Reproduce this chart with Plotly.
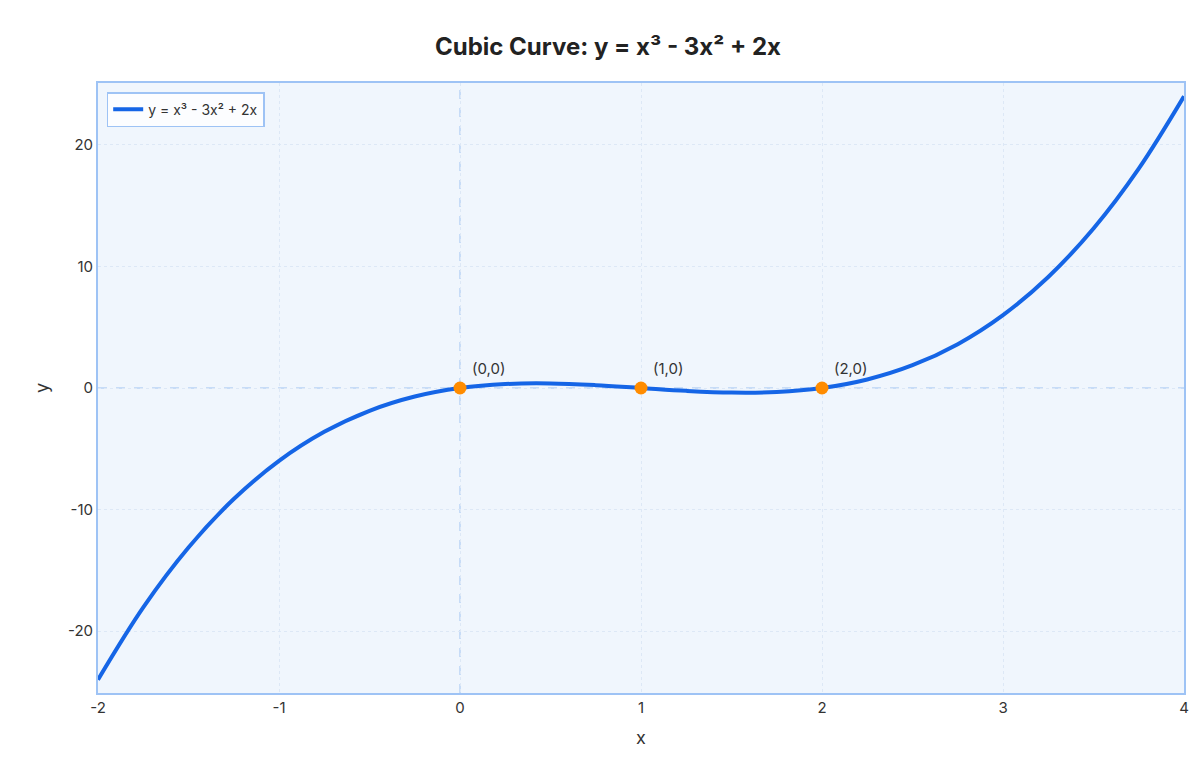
import plotly.graph_objects as go

x_vals = [-2, -1.75, -1.5, -1.25, -1, -0.75, -0.5, -0.25, 0, 0.25, 0.5, 0.75, 1, 1.25, 1.5, 1.75, 2, 2.25, 2.5, 2.75, 3, 3.25, 3.5, 3.75, 4]
y_vals = [-24, -18.05, -13.125, -9.14, -6, -3.61, -1.875, -0.70, 0, 0.328, 0.375, 0.234, 0, -0.234, -0.375, -0.328, 0, 0.703, 1.875, 3.61, 6, 9.14, 13.125, 18.05, 24]
root_x = [0, 1, 2]
root_y = [0, 0, 0]
root_labels = ["(0,0)", "(1,0)", "(2,0)"]
x_ticks = [-2, -1, 0, 1, 2, 3, 4]
x_ticktext = ["-2", "-1", "0", "1", "2", "3", "4"]
y_ticks = [-20, -10, 0, 10, 20]
y_ticktext = ["-20", "-10", "0", "10", "20"]

font = "Inter, Lato, sans-serif"
fig = go.Figure()
fig.add_trace(go.Scatter(x=x_vals, y=y_vals, mode="lines", line=dict(color="#1565E6", width=4, shape="spline"),
                         name="y = x³ - 3x² + 2x"))
fig.add_trace(go.Scatter(x=root_x, y=root_y, mode="markers", marker=dict(color="#FF8C00", size=13),
                         showlegend=False))
for xv, yv, t in zip(root_x, root_y, root_labels):
    fig.add_annotation(x=xv, y=yv, text=t, showarrow=False, xanchor="left", yanchor="bottom",
                       xshift=10, yshift=8, font=dict(size=15, color="#333333", family=font))
fig.add_shape(type="line", x0=0, x1=0, y0=0, y1=1, yref="paper", line=dict(color="#B9D3F5", width=1.5, dash="dash"), layer="below")
fig.add_shape(type="line", x0=0, x1=1, xref="paper", y0=0, y1=0, line=dict(color="#B9D3F5", width=1.5, dash="dash"), layer="below")

axis = dict(showgrid=True, gridcolor="#DDE8F6", griddash="dot", zeroline=False, showline=True, linecolor="#9EC3F5",
            linewidth=2, mirror=True, ticks="", automargin=False, tickfont=dict(size=15, color="#333333", family=font),
            title_font=dict(size=18, color="#333333", family=font))
fig.update_xaxes(axis, range=[-2, 4], tickvals=x_ticks, ticktext=x_ticktext, title_text="x")
fig.update_yaxes(axis, range=[-25.1, 25.1], tickvals=y_ticks, ticktext=y_ticktext, title_text="y", title_standoff=15)
fig.update_layout(
    width=1200, height=762, paper_bgcolor="white", plot_bgcolor="#F0F6FD",
    margin=dict(l=90, r=24, t=75, b=77, autoexpand=False),
    title=dict(text="<b>Cubic Curve: y = x³ - 3x² + 2x</b>", x=0.5, y=0.96, xanchor="center",
               font=dict(size=24, color="#222222", family=font)),
    legend=dict(x=0.008, y=0.985, xanchor="left", yanchor="top", bgcolor="rgba(255,255,255,0.8)",
                bordercolor="#9EC3F5", borderwidth=1.5, font=dict(size=14, color="#333333", family=font)),
)
fig.write_html("out.html")
